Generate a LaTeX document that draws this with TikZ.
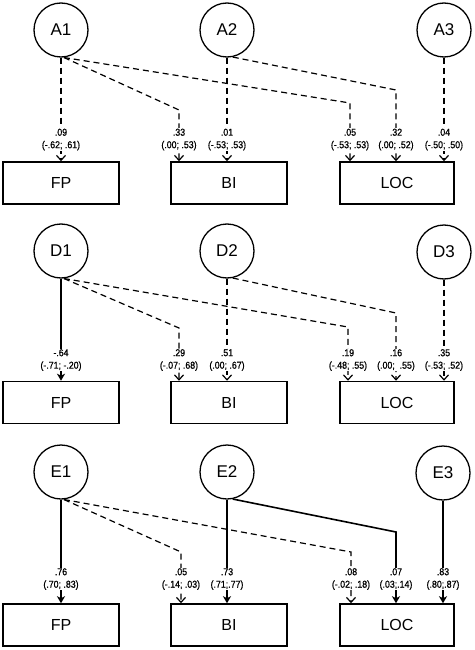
\documentclass[tikz,border=0pt]{standalone}
\usepackage{fontspec}
\setmainfont{Liberation Sans}
\newfontfamily\labfont[FakeBold=0.8,FakeStretch=0.88]{Liberation Sans}
\usetikzlibrary{arrows.meta}
\tikzset{
  lat/.style={draw, circle, line width=1.3pt, minimum size=54pt, inner sep=0pt, font=\fontsize{17}{17}\selectfont},
  obs/.style={draw, rectangle, line width=1.5pt, minimum width=116pt, minimum height=42pt, inner sep=0pt, font=\fontsize{16}{16}\selectfont},
  dsh/.style={line width=1.2pt, dash pattern=on 6pt off 4pt, -{Straight Barb[length=5pt,width=9pt,line width=1.2pt]}},
  sld/.style={line width=1.6pt, -{Stealth[length=7pt,width=8pt,inset=2pt]}},
  lab/.style={fill=white, inner xsep=1pt, inner ysep=0.5pt, align=center, font=\labfont\fontsize{10}{12.5}\selectfont}
}
\begin{document}
\begin{tikzpicture}[x=1pt,y=-1pt]
\useasboundingbox[fill=white] (0,0) rectangle (474,650);
% ---------- Panel A ----------
\node[lat] (A1) at (61,30) {A1};
\node[lat] (A2) at (227,30) {A2};
\node[lat] (A3) at (444,30) {A3};
\node[obs] (FPa) at (61,183) {FP};
\node[obs] (BIa) at (229,183) {BI};
\node[obs, minimum width=114pt] (LOCa) at (397,183) {LOC};
\draw[dsh] (A1.south) -- (A1.south |- FPa.north);
\draw[dsh] (A1.-84) -- (179,110) -- (BIa.north -| 179,0);
\draw[dsh] (A1.-84) -- (350,103) -- (LOCa.north -| 350,0);
\draw[dsh] (A2.south) -- (A2.south |- BIa.north);
\draw[dsh] (A2.-78) -- (396,90) -- (LOCa.north -| 396,0);
\draw[dsh] (A3.south) -- (A3.south |- LOCa.north);
\node[lab] (la1) at (61,139.5) {.09\\(-.62; .61)};
\node[lab] (la2) at (179,139.5) {.33\\(.00; .53)};
\node[lab] (la3) at (227,139.5) {.01\\(-.53; .53)};
\node[lab] (la4) at (350,139.5) {.05\\(-.53; .53)};
\node[lab] (la5) at (396,139.5) {.32\\(.00; .52)};
\node[lab] (la6) at (444,139.5) {.04\\(-.50; .50)};
% ---------- Panel D ----------
\node[lat] (D1) at (61,251) {D1};
\node[lat] (D2) at (227,251) {D2};
\node[lat] (D3) at (444,252) {D3};
\node[obs] (FPb) at (61,402.5) {FP};
\node[obs] (BIb) at (229,402.5) {BI};
\node[obs, minimum width=114pt] (LOCb) at (397,402.5) {LOC};
\draw[sld] (D1.south) -- (D1.south |- FPb.north);
\draw[dsh] (D1.-84) -- (179,328) -- (BIb.north -| 179,0);
\draw[dsh] (D1.-84) -- (348,327) -- (LOCb.north -| 348,0);
\draw[dsh] (D2.south) -- (D2.south |- BIb.north);
\draw[dsh] (D2.-78) -- (396,313) -- (LOCb.north -| 396,0);
\draw[dsh] (D3.south) -- (D3.south |- LOCb.north);
\node[lab] (ld1) at (61,360) {-.64\\(-.71; -.20)};
\node[lab] (ld2) at (179,360) {.29\\(-.07; .68)};
\node[lab] (ld3) at (227,360) {.51\\(.00; .67)};
\node[lab] (ld4) at (348,360) {.19\\(-.48; .55)};
\node[lab] (ld5) at (396,360) {.16\\(.00;\ \ .55)};
\node[lab] (ld6) at (444,360) {.35\\(-.53; .52)};
% ---------- Panel E ----------
\node[lat] (E1) at (61,472) {E1};
\node[lat] (E2) at (227,472) {E2};
\node[lat] (E3) at (443,473) {E3};
\node[obs] (FPc) at (61,625) {FP};
\node[obs] (BIc) at (229,625) {BI};
\node[obs, minimum width=114pt] (LOCc) at (397,625) {LOC};
\draw[sld] (E1.south) -- (E1.south |- FPc.north);
\draw[dsh] (E1.-84) -- (181,552) -- (BIc.north -| 181,0);
\draw[dsh] (E1.-84) -- (351,552) -- (LOCc.north -| 351,0);
\draw[sld] (E2.south) -- (E2.south |- BIc.north);
\draw[sld] (E2.-78) -- (396,532) -- (LOCc.north -| 396,0);
\draw[sld] (E3.south) -- (E3.south |- LOCc.north);
\node[lab] (le1) at (61,579) {.76\\(.70; .83)};
\node[lab] (le2) at (181,579) {.05\\(-.14; .03)};
\node[lab] (le3) at (227,579) {.73\\(.71;.77)};
\node[lab] (le4) at (351,579) {.08\\(-.02; .18)};
\node[lab] (le5) at (396,579) {.07\\(.03;.14)};
\node[lab] (le6) at (443,579) {.83\\(.80;.87)};
\end{tikzpicture}
\end{document}
